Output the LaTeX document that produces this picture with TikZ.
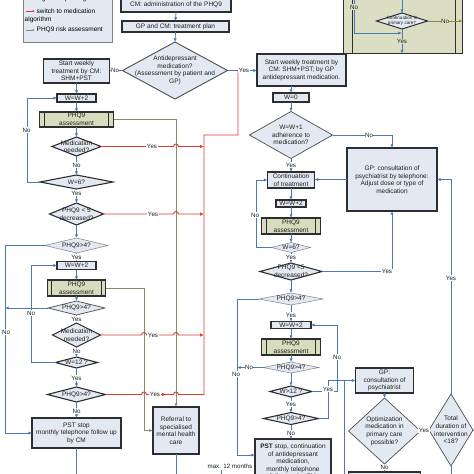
\documentclass[tikz,border=0pt]{standalone}
\usepackage{fontspec}
\setmainfont{Liberation Sans}
\usetikzlibrary{shapes.geometric,arrows.meta}
\definecolor{cblue}{HTML}{4A78B8}
\definecolor{cred}{HTML}{E23B32}
\definecolor{cgrey}{HTML}{8A8B70}
\definecolor{cfill}{HTML}{E3E9F2}
\definecolor{cfillo}{HTML}{D8DCBE}
\definecolor{calg}{HTML}{DCDEC3}
\definecolor{cbord}{HTML}{2E2E2E}
\definecolor{clight}{HTML}{808080}
\definecolor{ctext}{HTML}{1F1F1F}
\definecolor{colive}{HTML}{7F8F3A}
\newcommand\txtf{\fontsize{6.5}{7.6}\selectfont}
\newcommand\smf{\fontsize{4.6}{5.6}\selectfont}
\newcommand\labf{\fontsize{6.2}{6.2}\selectfont}
\newcommand\innerlines[3]{\draw[cbord,line width=0.8pt] ([xshift=#2]#1.north west) -- ([xshift=#2]#1.south west) ([xshift=-#3]#1.north east) -- ([xshift=-#3]#1.south east);}
\begin{document}
\begin{tikzpicture}[x=1pt,y=-1pt,
  bx/.style={rectangle, draw=cbord, line width=1.1pt, fill=cfill, inner sep=0pt, outer sep=0pt, align=center, font=\txtf, text=ctext},
  pbx/.style={bx, fill=cfillo},
  dB/.style={diamond, draw=cbord, line width=1.1pt, fill=cfill, inner sep=0pt, outer sep=0pt},
  dM/.style={diamond, draw=cbord!85, line width=0.7pt, fill=cfill, inner sep=0pt, outer sep=0pt},
  dL/.style={diamond, draw=clight, line width=0.5pt, fill=cfill, inner sep=0pt, outer sep=0pt},
  dt/.style={align=center, font=\txtf, inner sep=0pt, text=ctext},
  conn/.style={cblue, line width=0.8pt, -{Latex[length=3.6pt,width=3.2pt]}},
  bline/.style={cblue, line width=0.8pt},
  rline/.style={cred, line width=0.9pt},
  rarr/.style={rline, -{Latex[length=4pt,width=3.6pt]}},
  gline/.style={cgrey, line width=0.9pt},
  garr/.style={gline, -{Latex[length=3.6pt,width=3.2pt]}},
  lab/.style={fill=white, inner sep=0.5pt, font=\labf, text=ctext}
]
\useasboundingbox (0,0) rectangle (474,474);
\clip (0,0) rectangle (474,474);
\fill[white] (0,0) rectangle (474,474);

% ---------- legend ----------
\node[draw=clight, line width=0.6pt, fill=cfill, minimum width=89pt, minimum height=62pt, inner sep=0pt] (leg) at (67.5,11) {};
\draw[cblue, line width=0.6pt, -{Latex[length=2.5pt,width=2.2pt]}] (26,-1.5) -- (35,-1.5);
\node[anchor=west, font=\txtf, inner sep=0pt] (lg1) at (36.5,-1.5) {higher step in algorithm};
\draw[cred, line width=0.6pt, -{Latex[length=2.5pt,width=2.2pt]}] (26,11) -- (35,11);
\node[anchor=west, font=\txtf, inner sep=0pt] (lg2) at (36.5,11) {switch to medication};
\node[anchor=west, font=\txtf, inner sep=0pt] (lg3) at (24.5,19.5) {algorithm};
\draw[cgrey, line width=0.6pt, -{Latex[length=2.5pt,width=2.2pt]}] (26,30) -- (35,30);
\node[anchor=west, font=\txtf, inner sep=0pt] (lg4) at (36.5,30) {PHQ9 risk assessment};

% ---------- algorithm container (top right) ----------
\node[draw=cbord, line width=1pt, fill=calg, minimum width=119pt, minimum height=83pt, inner sep=0pt] (alg) at (402.5,11.5) {};
\innerlines{alg}{10pt}{7pt}
\node[dB, line width=1pt, minimum width=51pt, minimum height=16pt, label={[dt, font=\smf]center:{Continuation in\\primary care?}}] (cip) at (402,21) {};

% ---------- top ----------
\node[bx, minimum width=110pt, minimum height=15pt] (adm) at (176,4.5) {CM: administration of the PHQ9};
\node[bx, minimum width=107pt, minimum height=11pt] (plan) at (175.5,26.5) {GP and CM: treatment plan};
\node[dM, line width=0.9pt, minimum width=105pt, minimum height=57pt, label={[dt]center:{Antidepressant\\medication?\\(Assessment by patient and\\GP)}}] (ant) at (175,70.5) {};

% ---------- left column ----------
\node[bx, minimum width=66pt, minimum height=24pt] (sL) at (76.5,71) {Start weekly\\treatment by CM:\\SHM+PST};
\node[bx, minimum width=39pt, minimum height=8pt] (wL1) at (76.5,98) {W=W+2};
\node[pbx, minimum width=74pt, minimum height=15pt] (pL1) at (76.5,119.5) {PHQ9\\assessment};
\innerlines{pL1}{5pt}{5pt}
\node[dB, minimum width=49pt, minimum height=19pt, label={[dt]center:{Medication\\needed?}}] (mL1) at (76.5,146.5) {};
\node[dB, minimum width=73pt, minimum height=14pt, label={[dt]center:{W=6?}}] (wL6) at (76.5,182) {};
\node[dB, minimum width=54pt, minimum height=22pt, label={[dt]center:{PHQ9 < 5\\decreased?}}] (dL1) at (76.5,214) {};
\node[dL, minimum width=63pt, minimum height=15pt, label={[dt]center:{PHQ9>4?}}] (qL1) at (76.5,245.5) {};
\node[bx, minimum width=39pt, minimum height=8pt] (wL2) at (76.5,265.5) {W=W+2};
\node[pbx, minimum width=58pt, minimum height=16pt] (pL2) at (76.5,288) {PHQ9\\assessment};
\innerlines{pL2}{4pt}{4pt}
\node[dM, minimum width=57pt, minimum height=14pt, label={[dt]center:{PHQ9>4?}}] (qL2) at (76.5,308) {};
\node[dB, minimum width=48pt, minimum height=24pt, label={[dt]center:{Medication\\needed?}}] (mL2) at (76.5,335) {};
\node[dB, minimum width=42pt, minimum height=11pt, label={[dt]center:{W=12 ?}}] (wL12) at (76.5,362.5) {};
\node[dB, minimum width=58pt, minimum height=15pt, label={[dt]center:{PHQ9>4?}}] (qL3) at (76.5,394.5) {};
\node[bx, minimum width=89pt, minimum height=30pt] (pstL) at (76.5,433) {PST stop\\monthly telephone follow up\\by CM};
\node[bx, minimum width=46pt, minimum height=47pt] (ref) at (176,430.5) {Referral to\\specialised\\mental health\\care};

% ---------- right column ----------
\node[bx, minimum width=89pt, minimum height=32pt] (sR) at (301.5,70) {Start weekly treatment by\\CM: SHM+PST; by GP\\antidepressant medication.};
\node[bx, minimum width=36pt, minimum height=9pt] (w0) at (291,97.5) {W=0};
\node[dM, minimum width=83pt, minimum height=47pt, label={[dt]center:{W=W+1\\adherence to\\medication?}}] (adh) at (291,135) {};
\node[bx, minimum width=47pt, minimum height=16pt] (cont) at (291,180) {Continuation\\of treatment};
\node[bx, minimum width=30pt, minimum height=7pt] (wR1) at (291,203.5) {W=W+2};
\node[pbx, minimum width=59pt, minimum height=16pt] (pR1) at (291,226) {PHQ9\\assessment};
\innerlines{pR1}{5pt}{5pt}
\node[dL, minimum width=39pt, minimum height=10pt, label={[dt]center:{W=6?}}] (wR6) at (291,247.5) {};
\node[dB, minimum width=62pt, minimum height=17pt, label={[dt]center:{PHQ9 <5\\decreased?}}] (dR1) at (291,271.5) {};
\node[dL, minimum width=64pt, minimum height=12pt, label={[dt]center:{PHQ9>4?}}] (qR1) at (291,299) {};
\node[bx, minimum width=40pt, minimum height=7pt] (wR2) at (291,325) {W=W+2};
\node[pbx, minimum width=59pt, minimum height=16pt] (pR2) at (291,347) {PHQ9\\assessment};
\innerlines{pR2}{5pt}{5pt}
\node[dL, minimum width=56pt, minimum height=11pt, label={[dt]center:{PHQ9>4?}}] (qR2) at (291,367.5) {};
\node[dB, minimum width=42pt, minimum height=11pt, label={[dt]center:{W>12 ?}}] (wR12) at (291,391.5) {};
\node[dB, minimum width=55pt, minimum height=12pt, label={[dt]center:{PHQ9>4?}}] (qR3) at (291,418.5) {};
\node[bx, minimum width=76pt, minimum height=46pt] (pstR) at (293,462) {\textbf{PST} stop, continuation\\of antidepressant\\medication,\\monthly telephone\\follow up by CM};

\node[bx, minimum width=90pt, minimum height=63pt] (gp) at (392,179.5) {GP: consultation of\\psychiatrist by telephone:\\Adjust dose or type of\\medication};
\node[bx, minimum width=58pt, minimum height=25pt] (gpc) at (384.5,380.5) {GP:\\consultation of\\psychiatrist};
\node[dM, minimum width=72pt, minimum height=66pt, label={[dt]center:{Optimization\\medication in\\primary care\\possible?}}] (opt) at (384.5,431) {};
\node[dM, minimum width=44pt, minimum height=72pt, label={[dt]center:{Total\\duration of\\intervention\\<18?}}] (tot) at (451,430) {};
\node[bx, minimum width=72pt, minimum height=36pt] (obox) at (384.5,490) {};

\coordinate (k1) at (0,455);

% ---------- connectors: top ----------
\draw[conn] (adm.south) -- (plan.north);
\draw[conn] (plan.south) -- (ant.north);
\draw[conn] (ant.west) -- (ant.west -| sL.east);
\draw[conn] (ant.east) -- (ant.east -| sR.west);

% ---------- connectors: left ----------
\draw[conn] (sL.south) -- (wL1.north);
\draw[conn] (wL1.south) -- (pL1.north);
\draw[conn] (pL1.south) -- (mL1.north);
\draw[conn] (mL1.south) -- (wL6.north);
\draw[conn] (wL6.south) -- (dL1.north);
\draw[conn] (dL1.south) -- (qL1.north);
\draw[conn] (qL1.south) -- (wL2.north);
\draw[conn] (wL2.south) -- (pL2.north);
\draw[conn] (pL2.south) -- (qL2.north);
\draw[conn] (qL2.south) -- (mL2.north);
\draw[conn] (mL2.south) -- (wL12.north);
\draw[conn] (wL12.south) -- (qL3.north);
\draw[conn] (qL3.south) -- (pstL.north);
\draw[conn] (wL6.west) -- (27,182) -- (27,98) -- (wL1.west);
\draw[conn] (qL1.west) -- (5,245.5) -- (5,433) -- (pstL.west);
\draw[conn] (qL2.west) -- (5,308);
\draw[conn] (wL12.west) -- (31,362.5) -- (31,265.5) -- (wL2.west);
\draw[bline] (pstL.south) -- (76.5,480);
\draw[bline] (ref.south) -- (176,480);

% grey risk lines
\draw[garr] (pL1.east) -- (176,119.5) -- (ref.north);
\draw[garr] (pL2.east) -- (144,288) -- (144,430.5) -- (ref.west);

% red switch lines
\draw[rarr] (mL1.east) -- (173.5,146.5) arc[start angle=180,end angle=360,radius=2.5] -- (204,146.5);
\draw[rarr] (dL1.east) -- (173.5,214) arc[start angle=180,end angle=360,radius=2.5] -- (204,214);
\draw[rarr] (mL2.east) -- (141.5,335) arc[start angle=180,end angle=360,radius=2.5] -- (173.5,335) arc[start angle=180,end angle=360,radius=2.5] -- (204,335);
\draw[rarr] (qL3.east) -- (141.5,394.5) arc[start angle=180,end angle=360,radius=2.5] -- (166,394.5);
\draw[rline] (165,394.5) -- (173.5,394.5) arc[start angle=180,end angle=360,radius=2.5] -- (204,394.5) -- (204,135) -- (238,135) -- (238,70.5);

% ---------- connectors: right ----------
\draw[conn] (sR.south -| w0.north) -- (w0.north);
\draw[conn] (w0.south) -- (adh.north);
\draw[conn] (adh.south) -- (cont.north);
\draw[conn] (cont.south) -- (wR1.north);
\draw[conn] (wR1.south) -- (pR1.north);
\draw[conn] (pR1.south) -- (wR6.north);
\draw[conn] (wR6.south) -- (dR1.north);
\draw[conn] (dR1.south) -- (qR1.north);
\draw[conn] (qR1.south) -- (wR2.north);
\draw[conn] (wR2.south) -- (pR2.north);
\draw[conn] (pR2.south) -- (qR2.north);
\draw[conn] (qR2.south) -- (wR12.north);
\draw[conn] (wR12.south) -- (qR3.north);
\draw[conn] (qR3.south) -- (qR3.south |- pstR.north);
\draw[conn] (adh.east) -- (392,135) -- (gp.north);
\draw[conn] (gp.west) -- (gp.west -| cont.east);
\draw[conn] (dR1.east) -- (392,271.5) -- (gp.south);
\draw[conn] (wR6.west) -- (256,247.5) -- (256,180) -- (cont.west);
\draw[conn] (qR1.west) -- (237,299) -- (237,455) -- (pstR.west |- k1);
\draw[conn] (qR2.west) -- (237,367.5);
\draw[conn] (wR12.east) -- (337,391.5) -- (337,325) -- (wR2.east);
\draw[conn] (qR3.east) -- (328,418.5) -- (328,380.5) -- (gpc.west);
\draw[bline] (344,380.5) -- (344,480);
\draw[conn] (gpc.south) -- (opt.north);
\draw[conn] (opt.south) -- (obox.north);
\draw[conn] (opt.east) -- (tot.west);
\draw[conn] (tot.north) -- (451,179.5) -- (gp.east);
\draw[bline] (tot.south) -- (451,480);
\draw[bline] (tot.east) -- (480,430);
\draw[conn] (221,470) -- (221,479);

% algorithm container connectors
\draw[conn] (402,-12) -- (cip.north);
\draw[conn] (354,-12) -- (354,33) -- (402,33);
\draw[conn] (cip.south) -- (cip.south |- alg.south);
\draw[colive, line width=0.9pt, -{Latex[length=3.6pt,width=3.2pt]}] (cip.east) -- (cip.east -| alg.east);

% ---------- labels ----------
\node[lab] (lb1) at (115,70.5) {No};
\node[lab] (lb2) at (244,70.5) {Yes};
\node[lab] (lb3) at (76.5,165) {No};
\node[lab] (lb4) at (76.5,193) {Yes};
\node[lab] (lb5) at (26.5,130) {No};
\node[lab] (lb6) at (152,146.5) {Yes};
\node[lab] (lb7) at (153,214) {Yes};
\node[lab] (lb8) at (76.5,257) {Yes};
\node[lab] (lb9) at (6,332) {No};
\node[lab] (lb10) at (31,313) {No};
\node[lab] (lb11) at (76.5,319) {Yes};
\node[lab] (lb12) at (76.5,351) {No};
\node[lab] (lb13) at (76.5,378) {Yes};
\node[lab] (lb14) at (153,335) {Yes};
\node[lab] (lb15) at (155,394.5) {Yes};
\node[lab] (lb16) at (76.5,411) {No};
\node[lab] (lb17) at (291,165) {Yes};
\node[lab] (lb18) at (369,135) {No};
\node[lab] (lb19) at (255,215) {No};
\node[lab] (lb20) at (291,257) {Yes};
\node[lab] (lb21) at (387,271.5) {Yes};
\node[lab] (lb22) at (291,315) {Yes};
\node[lab] (lb23) at (249,367.5) {No};
\node[lab] (lb24) at (236,374) {No};
\node[lab] (lb25) at (337,357) {No};
\node[lab] (lb26) at (328,389) {Yes};
\node[lab] (lb27) at (291,404) {Yes};
\node[lab] (lb28) at (291,433) {No};
\node[lab] (lb29) at (424,430) {Yes};
\node[lab] (lb30) at (384.5,467) {No};
\node[lab] (lb31) at (451,278) {Yes};
\node[lab, anchor=east] (lb32) at (253,466) {max. 12 months};
\node[lab, fill=calg] (lb33) at (354,7) {No};
\node[lab, fill=calg] (lb34) at (402,41.5) {Yes};
\node[lab, fill=calg] (lb35) at (445,21) {No};
\end{tikzpicture}
\end{document}
